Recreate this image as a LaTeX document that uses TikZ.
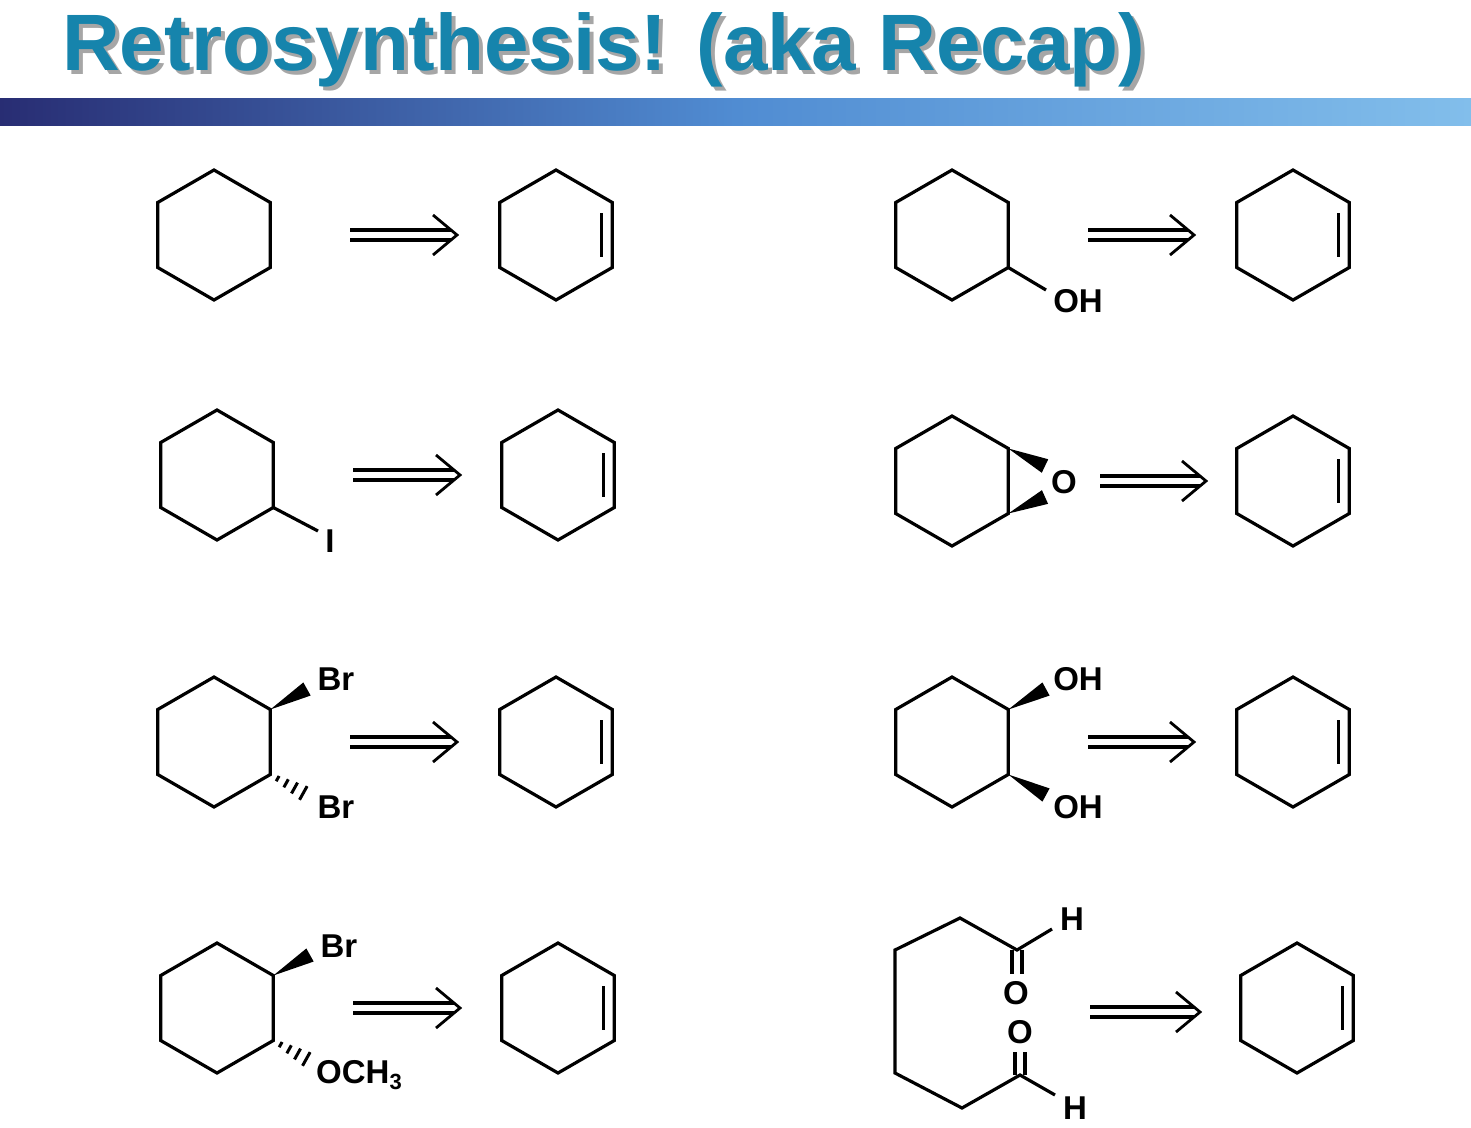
\documentclass[tikz,border=0pt]{standalone}
\usepackage{fontspec}
\setmainfont{Liberation Sans}
\usetikzlibrary{calc}
\definecolor{titleblue}{RGB}{22,132,172}
\tikzset{
 bond/.style={line width=3.2pt,line join=miter,line cap=butt},
 lbl/.style={font=\fontsize{33}{33}\selectfont\bfseries,inner sep=0pt},
}
\newcommand{\hexring}[1]{\draw[bond] ($(#1)+(90:65)$) -- ($(#1)+(30:65)$) -- ($(#1)+(-30:65)$) -- ($(#1)+(-90:65)$) -- ($(#1)+(-150:65)$) -- ($(#1)+(150:65)$) -- cycle;}
\newcommand{\hexene}[1]{\hexring{#1}\draw[bond] ($(#1)+(45.3,-22)$) -- ($(#1)+(45.3,22)$);}
\newcommand{\retro}[3]{\draw[bond] (#1,#3-5) -- (#2-6,#3-5) (#1,#3+5) -- (#2-6,#3+5);
 \draw[bond,line width=2.8pt] (#2-24,#3-20) -- (#2,#3) -- (#2-24,#3+20);}
\newcommand{\wedgeb}[2]{\fill (#1) -- ($(#2)!7.5pt!90:(#1)$) -- ($(#2)!7.5pt!-90:(#1)$) -- cycle;}
\newcommand{\hashb}[2]{\foreach \t/\l in {0.2/3,0.43/4.6,0.66/6.2,0.9/7.8}{\draw[line width=3pt] ($($(#1)!\t!(#2)$)!\l pt!90:(#2)$) -- ($($(#1)!\t!(#2)$)!\l pt!-90:(#2)$);}}
\begin{document}
\begin{tikzpicture}[x=1pt,y=-1pt]
\useasboundingbox (0,0) rectangle (1471,1127);
% title
\node[anchor=base west,inner sep=0pt,text=black!35] (shadow) at (66,74) {\fontsize{80}{80}\selectfont\bfseries Retrosynthesis! (aka Recap)};
\node[anchor=base west,inner sep=0pt,text=titleblue] (title) at (62,70) {\fontsize{80}{80}\selectfont\bfseries Retrosynthesis! (aka Recap)};
\shade[left color={rgb,255:red,40;green,45;blue,115},right color={rgb,255:red,130;green,190;blue,235},middle color={rgb,255:red,80;green,140;blue,210}] (0,98) rectangle (1471,125);
% Row 1
\coordinate (a1) at (214,235); \hexring{a1}
\retro{350}{457}{235}
\coordinate (p1) at (556,235); \hexene{p1}
\coordinate (b1) at (952,235); \hexring{b1}
\draw[bond] ($(b1)+(30:65)$) -- (1046,290);
\node[lbl] (oh1) at (1078,301) {OH};
\retro{1088}{1194}{235}
\coordinate (q1) at (1293,235); \hexene{q1}
% Row 2
\coordinate (a2) at (217,475); \hexring{a2}
\draw[bond] ($(a2)+(30:65)$) -- (318,531);
\node[lbl] (i1) at (330,541) {I};
\retro{353}{460}{475}
\coordinate (p2) at (558,475); \hexene{p2}
\coordinate (b2) at (952,481); \hexring{b2}
\node[lbl] (ox) at (1064,482) {O};
\wedgeb{$(b2)+(-30:65)$}{1045,466}
\wedgeb{$(b2)+(30:65)$}{1045,497}
\retro{1100}{1206}{481}
\coordinate (q2) at (1293,481); \hexene{q2}
% Row 3
\coordinate (a3) at (214,742); \hexring{a3}
\wedgeb{$(a3)+(-30:65)$}{307,689}
\hashb{$(a3)+(30:65)$}{307,795}
\node[lbl] (br1) at (336,679) {Br};
\node[lbl] (br2) at (336,807) {Br};
\retro{350}{457}{742}
\coordinate (p3) at (556,742); \hexene{p3}
\coordinate (b3) at (952,742); \hexring{b3}
\wedgeb{$(b3)+(-30:65)$}{1046,689}
\wedgeb{$(b3)+(30:65)$}{1046,795}
\node[lbl] (oh2) at (1078,679) {OH};
\node[lbl] (oh3) at (1078,807) {OH};
\retro{1088}{1194}{742}
\coordinate (q3) at (1293,742); \hexene{q3}
% Row 4
\coordinate (a4) at (217,1008); \hexring{a4}
\wedgeb{$(a4)+(-30:65)$}{310,955}
\hashb{$(a4)+(30:65)$}{310,1061}
\node[lbl] (br3) at (339,946) {Br};
\node[lbl,anchor=west] (och) at (316,1075) {OCH\raisebox{-0.3ex}{\fontsize{22}{22}\selectfont 3}};
\retro{353}{460}{1008}
\coordinate (p4) at (558,1008); \hexene{p4}
% dialdehyde
\draw[bond] (1052,929) -- (1017,950) -- (960,918) -- (895,950) -- (895,1073) -- (962,1108) -- (1020,1075) -- (1055,1095);
\draw[bond] (1012,950) -- (1012,974) (1022,950) -- (1022,974);
\draw[bond] (1015,1075) -- (1015,1052) (1025,1075) -- (1025,1052);
\node[lbl] (o1) at (1016,993) {O};
\node[lbl] (o2) at (1020,1032) {O};
\node[lbl] (h1) at (1072,919) {H};
\node[lbl] (h2) at (1075,1108) {H};
\retro{1090}{1200}{1012}
\coordinate (q4) at (1297,1008); \hexene{q4}
\end{tikzpicture}
\end{document}
